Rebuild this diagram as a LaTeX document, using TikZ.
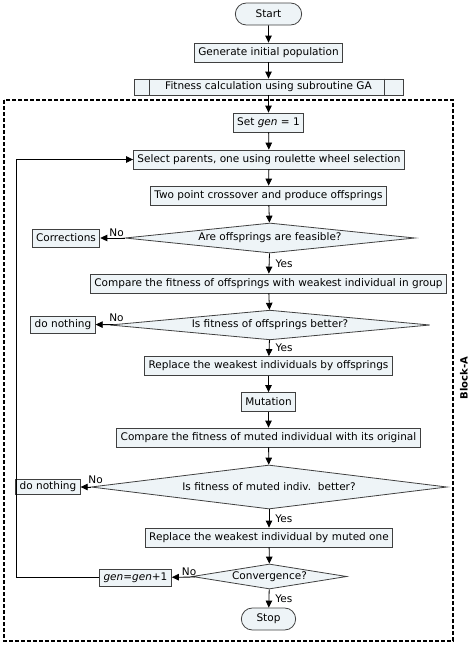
\documentclass[tikz,border=0pt]{standalone}
\usepackage{fontspec}
\setmainfont{DejaVu Sans}
\usetikzlibrary{arrows.meta,shapes.geometric,shapes.misc}
\definecolor{boxfill}{HTML}{EEF4F7}
\definecolor{boxline}{HTML}{404040}
\tikzset{
  proc/.style={draw=boxline, fill=boxfill, rectangle, align=center, minimum height=19pt, inner xsep=4pt, inner ysep=0pt, font=\fontsize{10.5}{12}\selectfont},
  term/.style={draw=boxline, fill=boxfill, rounded rectangle, align=center, minimum height=22pt, font=\fontsize{10.5}{12}\selectfont},
  dec/.style={draw=boxline, fill=boxfill, diamond, aspect=8, align=center, inner sep=0pt, font=\fontsize{10.5}{12}\selectfont},
  arr/.style={-{Triangle[length=7pt,width=6.5pt]}, black, line width=0.8pt},
  lbl/.style={font=\fontsize{10.5}{12}\selectfont, inner sep=1pt}
}
\begin{document}
\begin{tikzpicture}[x=1pt,y=-1pt, line width=0.8pt]
  \useasboundingbox (0,0) rectangle (474,646);
  % block A frame
  \draw[dash pattern=on 4pt off 2pt, line width=1.1pt] (4,100) rectangle (453,641);
  \node[font=\fontsize{10}{12}\selectfont\bfseries, rotate=90] (blk) at (464,378) {Block-A};
  % main column
  \node[term, minimum width=73pt] (start) at (268.5,14) {Start};
  \node[proc] (init) at (268.5,52.5) {Generate initial population};
  \node[proc, minimum width=269pt, minimum height=16pt] (fit) at (268.5,87) {Fitness calculation using subroutine GA};
  \draw[boxline] ([xshift=16pt]fit.north west) -- ([xshift=16pt]fit.south west)
                 ([xshift=-19pt]fit.north east) -- ([xshift=-19pt]fit.south east);
  \node[proc] (gen) at (268.5,122.5) {Set \textit{gen} = 1};
  \node[proc] (sel) at (269,159.5) {Select parents, one using roulette wheel selection};
  \node[proc] (cross) at (268.5,195.5) {Two point crossover and produce offsprings};
  \node[dec, minimum width=290pt, minimum height=30pt] (feas) at (270,238) {Are offsprings are feasible?};
  \node[proc, minimum height=18pt] (corr) at (66,238) {Corrections};
  \node[proc] (cmp1) at (268.5,283.5) {Compare the fitness of offsprings with weakest individual in group};
  \node[dec, minimum width=320pt, minimum height=29pt] (better1) at (270,325) {Is fitness of offsprings better?};
  \node[proc, minimum height=17pt] (none1) at (63,324.5) {do nothing};
  \node[proc] (repl1) at (268.5,366) {Replace the weakest individuals by offsprings};
  \node[proc] (mut) at (268.5,402) {Mutation};
  \node[proc] (cmp2) at (268.5,437.5) {Compare the fitness of muted individual with its original};
  \node[dec, minimum width=356pt, minimum height=44pt] (better2) at (269,487) {Is fitness of muted indiv.\ \ better?};
  \node[proc, minimum height=15pt] (none2) at (48,487) {do nothing};
  \node[proc] (repl2) at (269,537.5) {Replace the weakest individual by muted one};
  \node[dec, minimum width=147pt, minimum height=25pt] (conv) at (269.5,576.5) {Convergence?};
  \node[proc, minimum height=17pt] (incr) at (135.5,577.5) {\textit{gen}=\textit{gen}+1};
  \node[term, minimum width=61pt] (stop) at (268.5,619) {Stop};
  % flow
  \draw[arr] (start) -- (init);
  \draw[arr] (init) -- (fit);
  \draw[arr] (fit) -- (gen);
  \draw[arr] (gen) -- (sel);
  \draw[arr] (sel) -- (cross);
  \draw[arr] (cross) -- (feas);
  \draw[arr] (feas) -- node[lbl, right=5pt] {Yes} (cmp1);
  \draw[arr] (feas) -- node[lbl, anchor=south, pos=0, xshift=-8pt] {No} (corr);
  \draw[arr] (cmp1) -- (better1);
  \draw[arr] (better1) -- node[lbl, right=5pt] {Yes} (repl1);
  \draw[arr] (better1) -- node[lbl, anchor=south, pos=0, xshift=3pt, yshift=2pt] {No} (none1);
  \draw[arr] (repl1) -- (mut);
  \draw[arr] (mut) -- (cmp2);
  \draw[arr] (cmp2) -- (better2);
  \draw[arr] (better2) -- node[lbl, right=5pt] {Yes} (repl2);
  \draw[arr] (better2) -- node[lbl, anchor=south, pos=0, xshift=5pt, yshift=2pt] {No} (none2);
  \draw[arr] (repl2) -- (conv);
  \draw[arr] (conv) -- node[lbl, right=5pt] {Yes} (stop);
  \draw[arr] (conv) -- node[lbl, anchor=south, pos=0, xshift=-6pt] {No} (incr);
  % loop back
  \coordinate (back) at (16,577.5);
  \draw[arr] (incr.west) -- (back) |- (sel.west);
\end{tikzpicture}
\end{document}
